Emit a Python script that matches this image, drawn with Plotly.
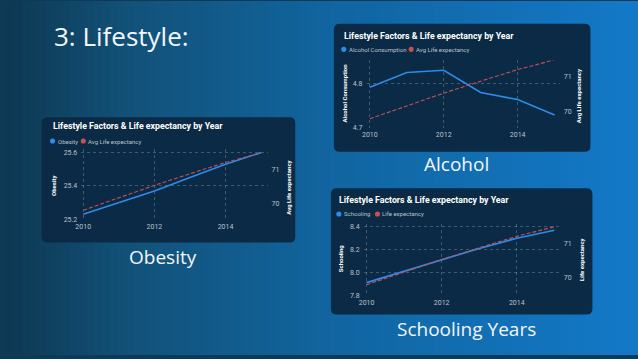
import plotly.graph_objects as go

# ---------------- data ----------------
years = [2010, 2011, 2012, 2013, 2014, 2015]
obesity = [25.23, 25.30, 25.37, 25.45, 25.53, 25.60]
alcohol = [4.791, 4.824, 4.829, 4.779, 4.763, 4.728]
schooling = [7.91, 8.01, 8.115, 8.21, 8.30, 8.37]
life_expectancy = [69.80, 70.17, 70.53, 70.87, 71.20, 71.48]

year_ticks = [2010, 2012, 2014]
obesity_ticks = [25.2, 25.4, 25.6]
alcohol_ticks = [4.7, 4.8]
schooling_ticks = [7.8, 8.0, 8.2, 8.4]
life_ticks = [70, 71]

slide_title = "3: Lifestyle:"
chart_title = "Lifestyle Factors & Life expectancy by Year"

W, H = 638, 359
def fx(p): return p / W
def fy(p): return 1 - p / H

BLUE = "#2f8ae8"
RED = "#c4505a"
CARD = "#0b2a45"
TICK = "#b9c2cc"
GRID = "rgba(190,200,210,0.30)"

panels = [
    dict(name="Obesity", values=obesity, lticks=obesity_ticks, lfmt=".1f",
         life_name="Avg Life expectancy",
         card=(36, 118, 292, 245), plot=(76, 150, 264, 222),
         xr=(2009.945, 2015.18), lr=(25.196, 25.622), rr=(69.517, 71.598),
         title_xy=(45, 127), legend_y=142, legend_x=(47, 51, 78, 82),
         ltitle_xy=(48, 187), rtitle_xy=(285, 189),
         caption="Obesity", caption_xy=(158, 260)),
    dict(name="Alcohol Consumption", values=alcohol, lticks=alcohol_ticks, lfmt=".1f",
         life_name="Avg Life expectancy",
         card=(331, 23, 590, 153), plot=(364, 60, 559, 129),
         xr=(2009.912, 2015.139), lr=(4.6984, 4.8518), rr=(69.531, 71.469),
         title_xy=(339, 35), legend_y=49, legend_x=(341, 345, 409, 413),
         ltitle_xy=(342, 93), rtitle_xy=(578, 96),
         caption="Alcohol", caption_xy=(455, 165)),
    dict(name="Schooling", values=schooling, lticks=schooling_ticks, lfmt=".1f",
         life_name="Life expectancy",
         card=(328, 190, 592, 318), plot=(361, 226, 559, 299),
         xr=(2009.921, 2015.144), lr=(7.794, 8.426), rr=(69.477, 71.563),
         title_xy=(334, 202), legend_y=216, legend_x=(336, 340, 375, 379),
         ltitle_xy=(338, 261), rtitle_xy=(581, 262),
         caption="Schooling Years", caption_xy=(465, 333)),
]

fig = go.Figure()
shapes = []
annotations = []

# background gradient stripes
stops = [(0.0, (14, 56, 82)), (0.2, (18, 82, 122)), (0.5, (17, 100, 158)), (1.0, (19, 121, 200))]
def grad(t):
    for (t0, c0), (t1, c1) in zip(stops[:-1], stops[1:]):
        if t0 <= t <= t1:
            u = (t - t0) / (t1 - t0)
            return "rgb(%d,%d,%d)" % tuple(round(a + (b - a) * u) for a, b in zip(c0, c1))
    return "rgb(%d,%d,%d)" % stops[-1][1]
N = 80
for i in range(N):
    shapes.append(dict(type="rect", xref="paper", yref="paper", layer="below",
                       x0=i / N, x1=(i + 1) / N + 0.002, y0=0, y1=1,
                       fillcolor=grad((i + 0.5) / N), line=dict(width=0)))

def rounded(x0, y0, x1, y1, r=6):
    return (f"M {fx(x0+r)},{fy(y0)} L {fx(x1-r)},{fy(y0)} Q {fx(x1)},{fy(y0)} {fx(x1)},{fy(y0+r)} "
            f"L {fx(x1)},{fy(y1-r)} Q {fx(x1)},{fy(y1)} {fx(x1-r)},{fy(y1)} "
            f"L {fx(x0+r)},{fy(y1)} Q {fx(x0)},{fy(y1)} {fx(x0)},{fy(y1-r)} "
            f"L {fx(x0)},{fy(y0+r)} Q {fx(x0)},{fy(y0)} {fx(x0+r)},{fy(y0)} Z")

def dot(cx, cy, color, r=2.6):
    return dict(type="circle", xref="paper", yref="paper", layer="above",
                x0=fx(cx - r), x1=fx(cx + r), y0=fy(cy + r), y1=fy(cy - r),
                fillcolor=color, line=dict(width=0))

layout_axes = {}
for i, p in enumerate(panels):
    xi = i + 1
    yl = 2 * i + 1
    yr = 2 * i + 2
    xname = "x" if xi == 1 else f"x{xi}"
    ylname = "y" if yl == 1 else f"y{yl}"
    yrname = f"y{yr}"
    L, T, R, B = p["plot"]
    c = p["card"]
    shapes.append(dict(type="path", xref="paper", yref="paper", layer="below",
                       path=rounded(*c), fillcolor=CARD, line=dict(width=0)))

    fig.add_trace(go.Scatter(x=years, y=p["values"], xaxis=xname, yaxis=ylname,
                             mode="lines", line=dict(color=BLUE, width=1.6),
                             name=p["name"], showlegend=False))
    fig.add_trace(go.Scatter(x=years, y=life_expectancy, xaxis=xname, yaxis=yrname,
                             mode="lines", line=dict(color=RED, width=1.1, dash="4px,2px"),
                             name=p["life_name"], showlegend=False))

    xkey = "xaxis" if xi == 1 else f"xaxis{xi}"
    ylkey = "yaxis" if yl == 1 else f"yaxis{yl}"
    yrkey = f"yaxis{yr}"
    tickfont = dict(family="Roboto", size=7, color=TICK)
    layout_axes[xkey] = dict(domain=[fx(L), fx(R)], anchor=ylname, range=list(p["xr"]),
                             tickvals=year_ticks, tickfont=tickfont, showgrid=True,
                             gridcolor=GRID, griddash="dot", gridwidth=1, zeroline=False,
                             showline=False, ticks="", ticklabelstandoff=1)
    layout_axes[ylkey] = dict(domain=[fy(B), fy(T)], anchor=xname, range=list(p["lr"]),
                              tickvals=p["lticks"], tickformat=p["lfmt"], tickfont=tickfont,
                              showgrid=True, gridcolor=GRID, griddash="dot", gridwidth=1,
                              zeroline=False, showline=False, ticks="", ticklabelstandoff=3)
    layout_axes[yrkey] = dict(domain=[fy(B), fy(T)], anchor=xname, overlaying=ylname,
                              side="right", range=list(p["rr"]), tickvals=life_ticks,
                              tickfont=tickfont, showgrid=False, zeroline=False,
                              showline=False, ticks="", ticklabelstandoff=3)

    tx, ty = p["title_xy"]
    annotations.append(dict(xref="paper", yref="paper", x=fx(tx), y=fy(ty), xanchor="left",
                            yanchor="middle", showarrow=False, text=f"<b>{chart_title}</b>",
                            font=dict(family="Roboto", size=8.8, color="#ffffff")))
    ly = p["legend_y"]
    d1, t1, d2, t2 = p["legend_x"]
    shapes.append(dot(d1, ly, BLUE))
    shapes.append(dot(d2, ly, RED))
    for tx_, label in ((t1, p["name"]), (t2, p["life_name"])):
        annotations.append(dict(xref="paper", yref="paper", x=fx(tx_), y=fy(ly), xanchor="left",
                                yanchor="middle", showarrow=False, text=label, borderpad=0,
                                font=dict(family="Roboto", size=6, color=TICK)))
    ax, ay = p["ltitle_xy"]
    annotations.append(dict(xref="paper", yref="paper", x=fx(ax), y=fy(ay), xanchor="center",
                            yanchor="middle", showarrow=False, textangle=-90,
                            text=f"<b>{p['name']}</b>",
                            font=dict(family="Roboto", size=6, color="#ffffff")))
    rx, ry = p["rtitle_xy"]
    annotations.append(dict(xref="paper", yref="paper", x=fx(rx), y=fy(ry), xanchor="center",
                            yanchor="middle", showarrow=False, textangle=-90,
                            text=f"<b>{p['life_name']}</b>",
                            font=dict(family="Roboto", size=6, color="#ffffff")))
    cx, cy = p["caption_xy"]
    annotations.append(dict(xref="paper", yref="paper", x=fx(cx), y=fy(cy), xanchor="center",
                            yanchor="middle", showarrow=False, text=p["caption"],
                            font=dict(family="Open Sans", size=19, color="#f2f6fa")))

annotations.append(dict(xref="paper", yref="paper", x=fx(46), y=fy(36), xanchor="left",
                        yanchor="middle", showarrow=False, text=slide_title,
                        font=dict(family="Open Sans", size=26, color="#f2f6fa")))

fig.update_layout(width=W, height=H, margin=dict(l=0, r=0, t=0, b=0),
                  paper_bgcolor="#0f3a55", plot_bgcolor="rgba(0,0,0,0)",
                  shapes=shapes, annotations=annotations, showlegend=False,
                  **layout_axes)

fig.write_html("out.html", config={"displayModeBar": False},
               post_script="document.body.style.margin='0';document.body.style.overflow='hidden';")
